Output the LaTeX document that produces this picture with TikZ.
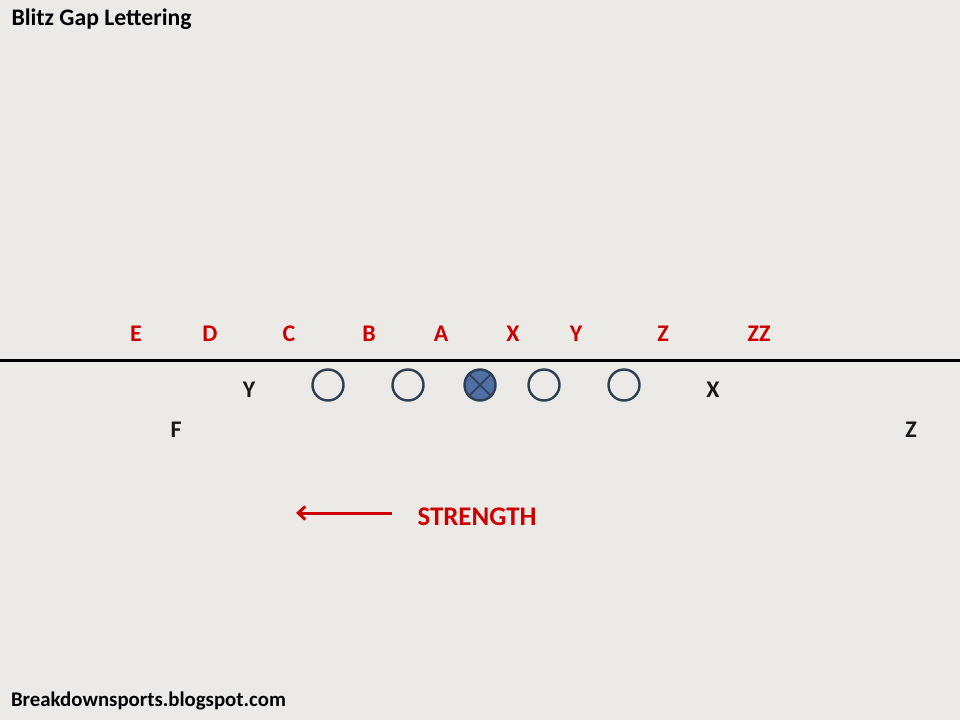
\documentclass[tikz,border=0pt]{standalone}
\usepackage{fontspec}
\usetikzlibrary{arrows.meta}
\setmainfont{Carlito}
\definecolor{bgray}{RGB}{236,234,231}
\definecolor{gapred}{RGB}{204,0,0}
\definecolor{olblue}{RGB}{46,62,84}
\definecolor{cfill}{RGB}{80,112,165}
\tikzset{
  gap/.style={text=gapred,font=\fontsize{24}{28}\selectfont\bfseries},
  player/.style={text=black!90,font=\fontsize{24}{28}\selectfont\bfseries},
  lineman/.style={shape=circle,draw=olblue,line width=2.4bp,minimum size=31bp,inner sep=0pt},
  center/.style={lineman,fill=cfill},
  caption/.style={anchor=west,text=black,font=\fontsize{22}{26}\selectfont\bfseries}
}
\begin{document}
\begin{tikzpicture}[x=1bp,y=-1bp]
    \fill[bgray] (0,0) rectangle (960,720);
    \useasboundingbox (0,0) rectangle (960,720);

    % insert nodes
    \node[caption,font=\fontsize{23.8}{28}\selectfont\bfseries] (title) at (8,19) {Blitz Gap Lettering};
    \node[caption,font=\fontsize{20.9}{24}\selectfont\bfseries] (site) at (7.5,701) {Breakdownsports.blogspot.com};

    \node[gap] (gE) at (136,334) {E};
    \node[gap] (gD) at (210,334) {D};
    \node[gap] (gC) at (289,334) {C};
    \node[gap] (gB) at (369,334) {B};
    \node[gap] (gA) at (441,334) {A};
    \node[gap] (gX) at (513,334) {X};
    \node[gap] (gY) at (576,334) {Y};
    \node[gap] (gZ) at (663,334) {Z};
    \node[gap] (gZZ) at (759,334) {ZZ};

    \node[lineman] (lt) at (328,385) {};
    \node[lineman] (lg) at (408,385) {};
    \node[center] (c) at (480,385) {};
    \node[lineman] (rg) at (544,385) {};
    \node[lineman] (rt) at (624,385) {};

    \node[player] (te) at (249,390) {Y};
    \node[player] (se) at (713,390) {X};
    \node[player] (fl) at (176,430) {F};
    \node[player] (wr) at (911,430) {Z};

    \node[gap,font=\fontsize{27}{31}\selectfont\bfseries,anchor=west] (str) at (414,517) {STRENGTH};

    \coordinate (los1) at (0,360);
    \coordinate (los2) at (960,360);
    \coordinate (arr1) at (392,513);
    \coordinate (arr2) at (296,513);

    % insert links
    \draw[line width=3bp] (los1) -- (los2);
    \draw[olblue,line width=1.6bp] (c.45) -- (c.225);
    \draw[olblue,line width=1.6bp] (c.135) -- (c.315);
    \draw[gapred,line width=3bp,-{Straight Barb[length=7bp,width=13bp]}] (arr1) -- (arr2);
\end{tikzpicture}
\end{document}
